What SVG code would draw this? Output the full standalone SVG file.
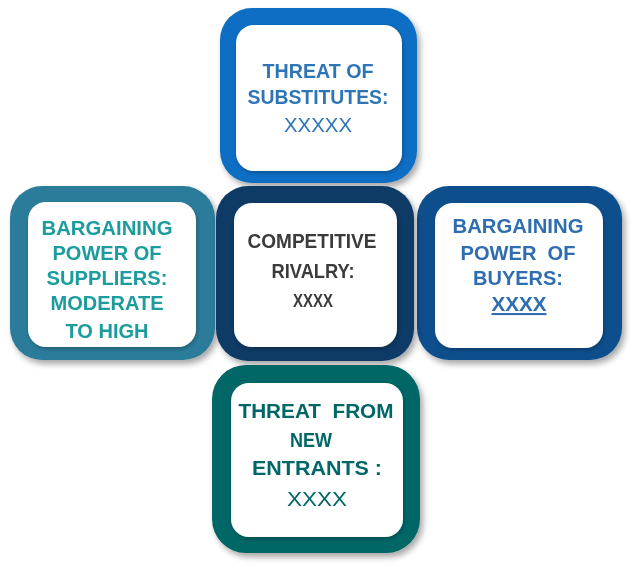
<svg xmlns="http://www.w3.org/2000/svg" width="641" height="574" viewBox="0 0 641 574">
<defs>
<filter id="sh" x="-10%" y="-10%" width="125%" height="125%">
<feGaussianBlur in="SourceAlpha" stdDeviation="3"/>
<feOffset dx="3" dy="4" result="b"/>
<feComponentTransfer><feFuncA type="linear" slope="0.35"/></feComponentTransfer>
<feMerge><feMergeNode/><feMergeNode in="SourceGraphic"/></feMerge>
</filter>
<filter id="ish" x="-10%" y="-10%" width="120%" height="120%">
<feGaussianBlur in="SourceAlpha" stdDeviation="2"/>
<feOffset dx="1" dy="2"/>
<feComponentTransfer><feFuncA type="linear" slope="0.25"/></feComponentTransfer>
<feMerge><feMergeNode/><feMergeNode in="SourceGraphic"/></feMerge>
</filter>
</defs>
<style>
.inner{fill:#ffffff;filter:url(#ish)}
text{font-family:"Liberation Sans",Arial,sans-serif;font-weight:bold;text-anchor:middle;font-size:21px}
.t1{fill:#2E75B6}
.t2{fill:#1A9C9C}
.t3{fill:#3A3A3A}
.t4{fill:#2E6DB0}
.t5{fill:#006666}
</style>
<rect width="641" height="574" fill="#ffffff"/>
<g id="node-substitutes" filter="url(#sh)">
<rect x="220" y="8" width="197" height="175" rx="32" fill="#0A6EC4"/>
<rect class="inner" x="236" y="25" width="166" height="146" rx="18"/>
<text class="t1" x="318" y="78" textLength="111" lengthAdjust="spacingAndGlyphs">THREAT OF</text>
<text class="t1" x="318" y="104" textLength="141" lengthAdjust="spacingAndGlyphs">SUBSTITUTES:</text>
<text class="t1" x="318" y="132" textLength="68" lengthAdjust="spacingAndGlyphs" style="font-weight:normal">XXXXX</text>
</g>
<g id="node-suppliers" filter="url(#sh)">
<rect x="10" y="186" width="205" height="174" rx="32" fill="#2B7C9A"/>
<rect class="inner" x="28" y="202" width="168" height="145" rx="18"/>
<text class="t2" x="107" y="235" textLength="131" lengthAdjust="spacingAndGlyphs">BARGAINING</text>
<text class="t2" x="107" y="260" textLength="109" lengthAdjust="spacingAndGlyphs">POWER OF</text>
<text class="t2" x="107" y="285" textLength="121" lengthAdjust="spacingAndGlyphs">SUPPLIERS:</text>
<text class="t2" x="107" y="310" textLength="113" lengthAdjust="spacingAndGlyphs">MODERATE</text>
<text class="t2" x="107" y="338" textLength="83" lengthAdjust="spacingAndGlyphs">TO HIGH</text>
</g>
<g id="node-buyers" filter="url(#sh)">
<rect x="417" y="186" width="205" height="174" rx="32" fill="#0B4F8C"/>
<rect class="inner" x="435" y="203" width="168" height="145" rx="18"/>
<text class="t4" x="518" y="233" textLength="131" lengthAdjust="spacingAndGlyphs">BARGAINING</text>
<text class="t4" x="518" y="260" textLength="115" lengthAdjust="spacingAndGlyphs" xml:space="preserve">POWER  OF</text>
<text class="t4" x="518" y="285" textLength="90" lengthAdjust="spacingAndGlyphs">BUYERS:</text>
<text class="t4" x="519" y="311" textLength="55" lengthAdjust="spacingAndGlyphs" text-decoration="underline">XXXX</text>
</g>
<g id="node-rivalry" filter="url(#sh)">
<rect x="216" y="186" width="198" height="175" rx="32" fill="#0B3A66"/>
<rect class="inner" x="234" y="203" width="163" height="144" rx="18"/>
<text class="t3" x="312" y="248" textLength="129" lengthAdjust="spacingAndGlyphs">COMPETITIVE</text>
<text class="t3" x="313" y="278" textLength="83" lengthAdjust="spacingAndGlyphs">RIVALRY:</text>
<text class="t3" x="313" y="307" textLength="40" lengthAdjust="spacingAndGlyphs" style="font-size:18px">XXXX</text>
</g>
<g id="node-entrants" filter="url(#sh)">
<rect x="212" y="365" width="208" height="188" rx="34" fill="#006666"/>
<rect class="inner" x="231" y="383" width="172" height="154" rx="18"/>
<text class="t5" x="316" y="418" textLength="155" lengthAdjust="spacingAndGlyphs" xml:space="preserve">THREAT  FROM</text>
<text class="t5" x="311" y="447" textLength="42" lengthAdjust="spacingAndGlyphs">NEW</text>
<text class="t5" x="317" y="475" textLength="130" lengthAdjust="spacingAndGlyphs">ENTRANTS :</text>
<text class="t5" x="317" y="506" textLength="60" lengthAdjust="spacingAndGlyphs" style="font-weight:normal">XXXX</text>
</g>
</svg>
